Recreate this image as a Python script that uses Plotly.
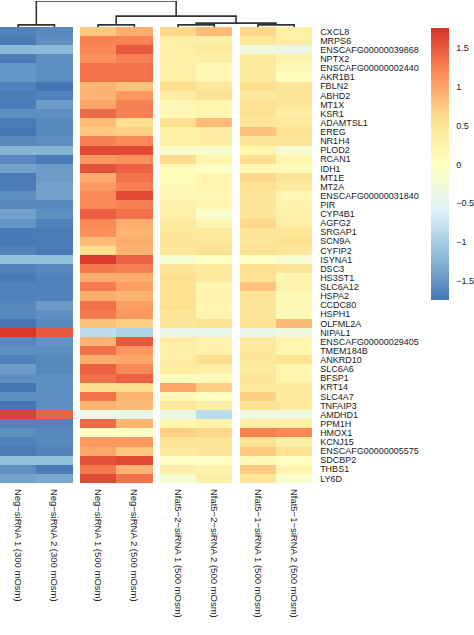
import plotly.graph_objects as go

genes = ["CXCL8", "MRPS6", "ENSCAFG00000039868", "NPTX2", "ENSCAFG00000002440", "AKR1B1",
         "FBLN2", "ABHD2", "MT1X", "KSR1", "ADAMTSL1", "EREG", "NR1H4", "PLOD2", "RCAN1",
         "IDH1", "MT1E", "MT2A", "ENSCAFG00000031840", "PIR", "CYP4B1", "AGFG2", "SRGAP1",
         "SCN9A", "CYFIP2", "ISYNA1", "DSC3", "HS3ST1", "SLC6A12", "HSPA2", "CCDC80", "HSPH1",
         "OLFML2A", "NIPAL1", "ENSCAFG00000029405", "TMEM184B", "ANKRD10", "SLC6A6", "BFSP1",
         "KRT14", "SLC4A7", "TNFAIP3", "AMDHD1", "PPM1H", "HMOX1", "KCNJ15",
         "ENSCAFG00000005575", "SDCBP2", "THBS1", "LY6D"]

samples = ["Neg\u2212siRNA 1 (300 mOsm)", "Neg\u2212siRNA 2 (300 mOsm)",
           "Neg\u2212siRNA 1 (500 mOsm)", "Neg\u2212siRNA 2 (500 mOsm)",
           "Nfat5\u22122\u2212siRNA 1 (500 mOsm)", "Nfat5\u22122\u2212siRNA 2 (500 mOsm)",
           "Nfat5\u22121\u2212siRNA 1 (500 mOsm)", "Nfat5\u22121\u2212siRNA 2 (500 mOsm)"]

neg1_300 = [-1.65, -1.7, -1.2, -1.7, -1.5, -1.5, -1.65, -1.7, -1.7, -1.55, -1.7, -1.75, -1.6,
            -1.25, -1.6, -1.4, -1.7, -1.7, -1.55, -1.6, -1.4, -1.5, -1.72, -1.72, -1.65, -1.15,
            -1.65, -1.7, -1.65, -1.65, -1.6, -1.6, -1.75, 1.72, -1.6, -1.55, -1.65, -1.45,
            -1.55, -1.75, -1.55, -1.75, 1.65, -1.65, -1.55, -1.65, -1.7, -1.15, -1.55, -1.4]
neg2_300 = [-1.6, -1.55, -1.2, -1.55, -1.55, -1.55, -1.75, -1.65, -1.45, -1.55, -1.6, -1.6, -1.55,
            -1.25, -1.7, -1.45, -1.45, -1.4, -1.4, -1.6, -1.55, -1.65, -1.7, -1.7, -1.7, -1.15,
            -1.6, -1.65, -1.65, -1.65, -1.45, -1.55, -1.6, 1.5, -1.5, -1.55, -1.6, -1.6,
            -1.55, -1.55, -1.55, -1.55, 1.45, -1.65, -1.6, -1.6, -1.65, -1.15, -1.7, -1.35]
neg1_500 = [0.75, 1.25, 1.2, 1.15, 1.35, 1.35, 0.9, 0.9, 1.0, 1.4, 0.85, 0.75, 1.25,
            1.6, 1.1, 1.55, 0.95, 1.1, 1.2, 1.2, 1.45, 1.2, 1.15, 0.85, 0.6, 1.7,
            1.3, 0.95, 1.3, 0.95, 1.35, 1.3, 0.8, -0.85, 0.9, 1.35, 0.95, 1.45,
            1.35, 0.6, 1.35, 0.9, -0.4, 1.4, -0.05, 1.1, 1.0, 1.55, 1.3, 1.6]
neg2_500 = [0.95, 1.25, 1.5, 1.25, 1.35, 1.35, 0.8, 1.1, 1.25, 1.25, 0.6, 0.7, 1.2,
            1.6, 1.15, 1.45, 1.35, 1.25, 1.6, 1.25, 1.35, 0.95, 0.9, 0.95, 0.9, 1.45,
            1.25, 0.95, 1.05, 0.9, 1.05, 1.1, 0.7, -0.95, 1.5, 1.1, 1.0, 1.2,
            1.45, 0.6, 0.9, 0.85, -0.4, 0.9, -0.05, 1.1, 0.75, 1.6, 0.9, 1.35]
nfat52_1 = [0.65, 0.3, 0.35, 0.3, 0.3, 0.3, 0.6, 0.35, 0.15, 0.15, 0.6, 0.3, 0.3,
            -0.1, 0.6, 0.1, 0.05, 0.1, 0.15, 0.25, 0.3, 0.4, 0.45, 0.5, 0.45, -0.15,
            0.45, 0.6, 0.55, 0.55, 0.6, 0.5, 0.45, -0.4, 0.35, 0.3, 0.35, 0.35,
            0.05, 1.0, 0.15, 0.45, -0.4, 0.2, 0.7, 0.5, 0.4, -0.05, 0.3, -0.2]
nfat52_2 = [0.85, 0.3, 0.4, 0.35, 0.15, 0.15, 0.45, 0.55, 0.2, 0.2, 0.85, 0.35, 0.35,
            -0.1, 0.2, -0.05, 0.2, 0.2, 0.15, 0.2, -0.1, 0.2, 0.4, 0.45, 0.55, 0.0,
            0.4, 0.4, 0.2, 0.25, 0.2, 0.2, 0.55, -0.45, 0.25, 0.25, 0.6, 0.3,
            0.1, 0.7, -0.05, 0.3, -0.85, 0.25, 0.65, 0.45, 0.45, -0.05, 0.25, 0.3]
nfat51_1 = [0.65, 0.45, -0.3, 0.4, 0.4, 0.4, 0.6, 0.4, 0.55, 0.55, 0.45, 0.8, 0.5,
            0.2, 0.6, 0.15, 0.65, 0.55, 0.45, 0.5, 0.5, 0.65, 0.5, 0.5, 0.55, -0.05,
            0.6, 0.55, 0.8, 0.5, 0.45, 0.5, 0.55, -0.4, 0.4, 0.45, 0.45, 0.4,
            0.5, 0.4, 0.7, 0.55, -0.35, 0.3, 1.25, 0.55, 0.75, 0.1, 0.75, 0.5]
nfat51_2 = [0.3, 0.35, -0.4, 0.25, 0.1, 0.05, 0.5, 0.5, 0.45, 0.35, 0.4, 0.55, 0.45,
            -0.15, 0.2, 0.1, 0.5, 0.4, 0.15, 0.25, 0.3, 0.3, 0.5, 0.55, 0.5, -0.15,
            0.5, 0.2, 0.25, 0.15, 0.1, 0.1, 0.85, -0.3, 0.2, 0.2, 0.55, 0.2,
            0.25, 0.4, 0.4, 0.45, -0.3, 0.3, 1.2, 0.3, 0.55, -0.05, 0.2, -0.1]

columns = [neg1_300, neg2_300, neg1_500, neg2_500, nfat52_1, nfat52_2, nfat51_1, nfat51_2]
col_groups = [[0, 1], [2, 3], [4, 5], [6, 7]]   # cutree_cols = 4

# column dendrogram merges: (left node, right node, height); leaves are 0..7
merges = [(0, 1, 0.08), (2, 3, 0.08), (4, 5, 0.08), (6, 7, 0.08),
          (10, 11, 0.15), (9, 12, 0.42), (8, 13, 1.0)]

colorbar_ticks = [1.5, 1, 0.5, 0, -0.5, -1, -1.5]
zmin, zmax = -1.75, 1.76

# ---- build heatmap matrix with thin gap columns between groups ----
GAP = 0.2
edges = [0.0]
z_cols = []
centers = []
for gi, grp in enumerate(col_groups):
    if gi > 0:
        edges.append(edges[-1] + GAP)
        z_cols.append([None] * len(genes))
    for c in grp:
        centers.append(edges[-1] + 0.5)
        edges.append(edges[-1] + 1.0)
        z_cols.append(columns[c])
z = [[z_cols[j][i] for j in range(len(z_cols))] for i in range(len(genes))]
xmax = edges[-1]

palette = ["#4575B4", "#91BFDB", "#E0F3F8", "#FFFFBF", "#FEE090", "#FC8D59", "#D73027"]
cscale = [[i / (len(palette) - 1), c] for i, c in enumerate(palette)]

W, H = 474, 635
heat_right_px = 313
heat_top_px, heat_bot_px = 27, 483

fig = go.Figure()
fig.add_trace(go.Heatmap(
    z=z, x=edges, y=list(range(len(genes))),
    colorscale=cscale, zmin=zmin, zmax=zmax, zsmooth=False,
    hoverongaps=False,
    colorbar=dict(
        x=431 / W, xanchor="left", xpad=0,
        y=1 - 28 / H, yanchor="top", ypad=0,
        len=272, lenmode="pixels", thickness=18, thicknessmode="pixels",
        outlinewidth=0,
        tickvals=colorbar_ticks, ticktext=[("%g" % t).replace("-", "\u2212") for t in colorbar_ticks],
        ticks="outside", ticklen=6, tickcolor="rgba(0,0,0,0)",
        tickfont=dict(family="Liberation Sans, Arial", size=9, color="#1a1a1a"),
    ),
))

# ---- dendrogram from merges ----
node_x = {i: centers[i] for i in range(len(samples))}
node_h = {i: 0.0 for i in range(len(samples))}
dx, dy = [], []
nid = len(samples)
for a, b, h in merges:
    xa, xb = node_x[a], node_x[b]
    dx += [xa, xa, xb, xb, None]
    dy += [node_h[a], h, h, node_h[b], None]
    node_x[nid] = (xa + xb) / 2
    node_h[nid] = h
    nid += 1

fig.add_trace(go.Scatter(x=dx, y=dy, mode="lines", xaxis="x", yaxis="y2",
                         line=dict(color="#333333", width=1.6), hoverinfo="skip",
                         showlegend=False, cliponaxis=False))

fig.update_layout(
    width=W, height=H,
    margin=dict(l=0, r=0, t=0, b=0),
    paper_bgcolor="white", plot_bgcolor="white",
    showlegend=False,
    font=dict(family="Liberation Sans, Arial", color="#1a1a1a"),
    xaxis=dict(domain=[0, heat_right_px / W], range=[0, xmax], showgrid=False, zeroline=False,
               tickvals=centers, ticktext=samples, tickangle=90, side="bottom",
               ticks="outside", ticklen=3, tickcolor="rgba(0,0,0,0)",
               tickfont=dict(size=9.5, color="#1a1a1a"), showline=False, fixedrange=True),
    yaxis=dict(domain=[1 - heat_bot_px / H, 1 - heat_top_px / H], range=[len(genes) - 0.5, -0.5],
               tickvals=list(range(len(genes))), ticktext=genes, side="right",
               showgrid=False, zeroline=False, showline=False,
               ticks="outside", ticklen=5, tickcolor="rgba(0,0,0,0)",
               tickfont=dict(size=9, color="#1a1a1a"), anchor="x"),
    yaxis2=dict(domain=[1 - heat_top_px / H, 1 - 1 / H], range=[0, 1.0], visible=False,
                anchor="x", fixedrange=True),
)

fig.write_html("out.html")
